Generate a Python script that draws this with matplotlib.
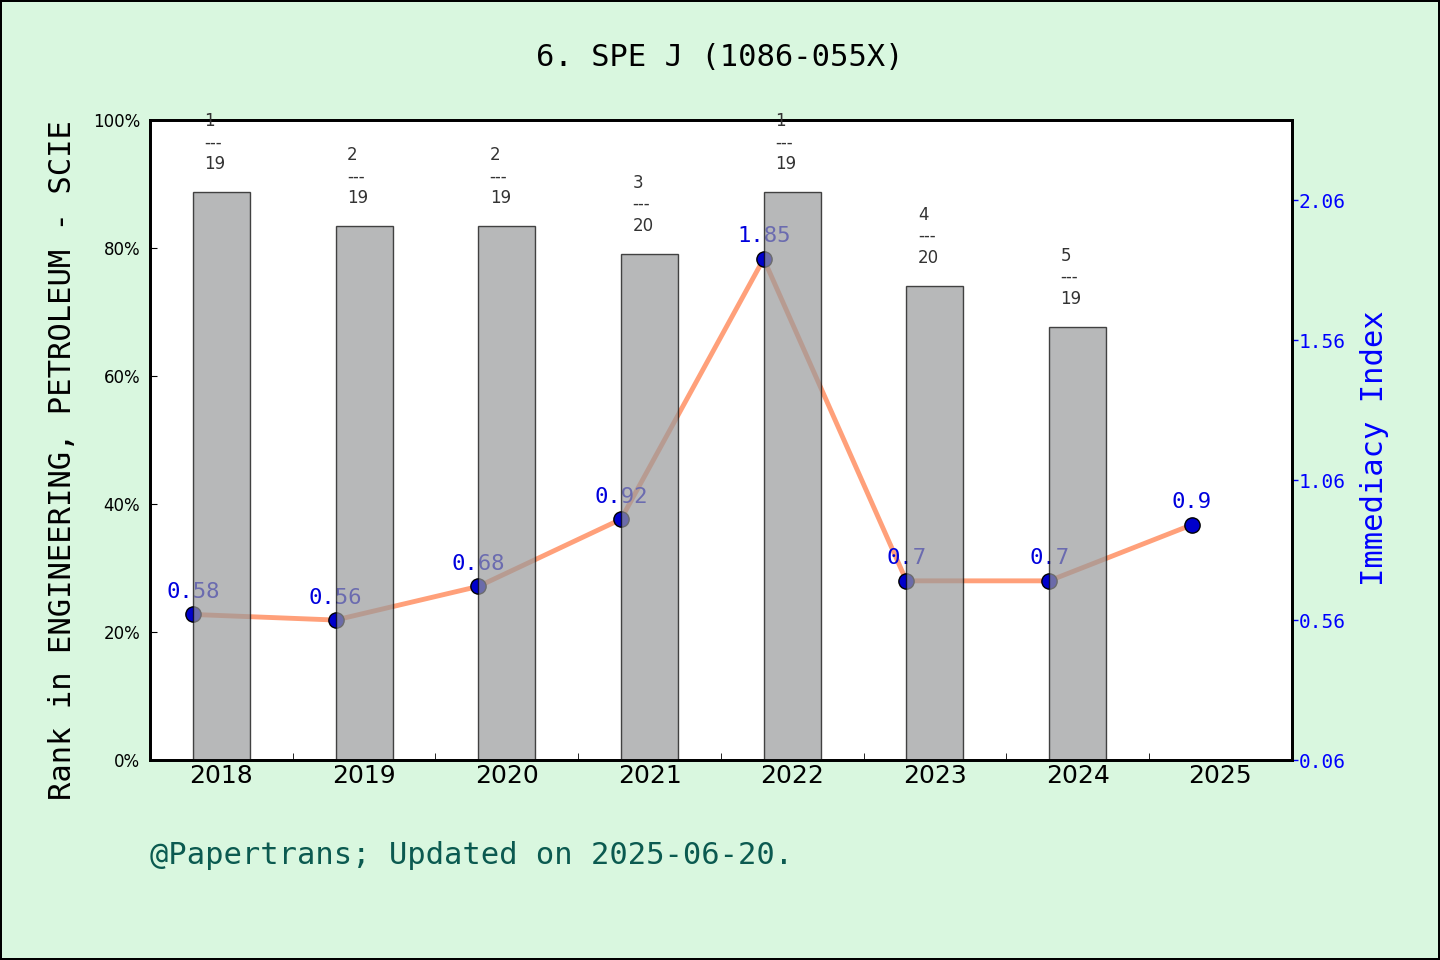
import numpy as np
import matplotlib
matplotlib.use('Agg')
import matplotlib.pyplot as plt
from matplotlib.ticker import FixedLocator, PercentFormatter

years = ['2018', '2019', '2020', '2021', '2022', '2023', '2024', '2025']
bar_years = ['2018', '2019', '2020', '2021', '2022', '2023', '2024']
rank_pct = [88.7, 83.4, 83.4, 79.1, 88.7, 74.1, 67.7]
rank = [1, 2, 2, 3, 1, 4, 5]
total = [19, 19, 19, 20, 19, 20, 19]
immediacy = [0.58, 0.56, 0.68, 0.92, 1.85, 0.7, 0.7, 0.9]
right_ticks = [0.06, 0.56, 1.06, 1.56, 2.06]

mono = 'DejaVu Sans Mono'

fig = plt.figure(figsize=(14.4, 9.6), dpi=100, facecolor='#d9f7df',
                 edgecolor='black', linewidth=1.5)
ax1 = fig.add_axes([0.1042, 0.2083, 0.7928, 0.6667])
ax2 = ax1.twinx()

# line axis sits under the bars
ax1.set_zorder(2)
ax2.set_zorder(1)
ax1.patch.set_visible(False)
ax2.patch.set_visible(True)
ax2.patch.set_facecolor('white')

x = np.arange(len(years))
xb = np.arange(len(bar_years))

ax2.plot(x, immediacy, color='#ffa07a', lw=3.5, marker='o', ms=11,
         mfc='#0000cc', mec='black', mew=1, zorder=3)
for xi, v in zip(x, immediacy):
    ax2.annotate(f'{v:g}', (xi, v), xytext=(0, 9), textcoords='offset points',
                 ha='center', va='bottom', fontsize=16, color='#0000dd',
                 family=mono, zorder=4)
ax2.set_ylim(0.06, 2.346)
ax2.set_yticks(right_ticks)
ax2.set_yticklabels([f'{t:.2f}' for t in right_ticks], family=mono, fontsize=14,
                    color='blue')
ax2.tick_params(axis='y', colors='blue', length=4, width=1, pad=1)
ax2.set_ylabel('Immediacy Index', family=mono, fontsize=22, color='blue')
ax2.yaxis.set_label_coords(1.06, 0.4875)

ax1.bar(xb, rank_pct, width=0.4, align='edge', color='#999a9c', alpha=0.7,
        edgecolor='black', linewidth=1)
for xi, v, r, n in zip(xb, rank_pct, rank, total):
    ax1.text(xi + 0.08, v + 3, f'{r}\n---\n{n}', ha='left', va='bottom',
             fontsize=12, color='#333333', linespacing=1.25)

ax1.set_xlim(-0.3, 7.7)
ax1.set_ylim(0, 100)
ax1.yaxis.set_major_formatter(PercentFormatter(decimals=0))
ax1.set_yticks([0, 20, 40, 60, 80, 100])
ax1.tick_params(axis='y', direction='in', length=5, labelsize=12, pad=7)
ax1.set_xticks(x + 0.2)
ax1.set_xticklabels(years, fontsize=18)
ax1.tick_params(axis='x', length=0, pad=3)
ax1.xaxis.set_minor_locator(FixedLocator(x[:-1] + 0.7))
ax1.tick_params(axis='x', which='minor', direction='in', length=5)
ax1.set_ylabel('Rank in ENGINEERING, PETROLEUM - SCIE', family=mono, fontsize=22)
ax1.yaxis.set_label_coords(-0.064, 0.469)

for ax in (ax1, ax2):
    for s in ax.spines.values():
        s.set_linewidth(2)

fig.text(0.5, 0.94, '6. SPE J (1086-055X)', ha='center', va='center',
         family=mono, fontsize=22)
fig.text(0.104, 0.109, '@Papertrans; Updated on 2025-06-20.', ha='left',
         va='center', family=mono, fontsize=22, color='#0b5a50')

fig.savefig('out.png', dpi=100, facecolor=fig.get_facecolor(),
            edgecolor=fig.get_edgecolor())
